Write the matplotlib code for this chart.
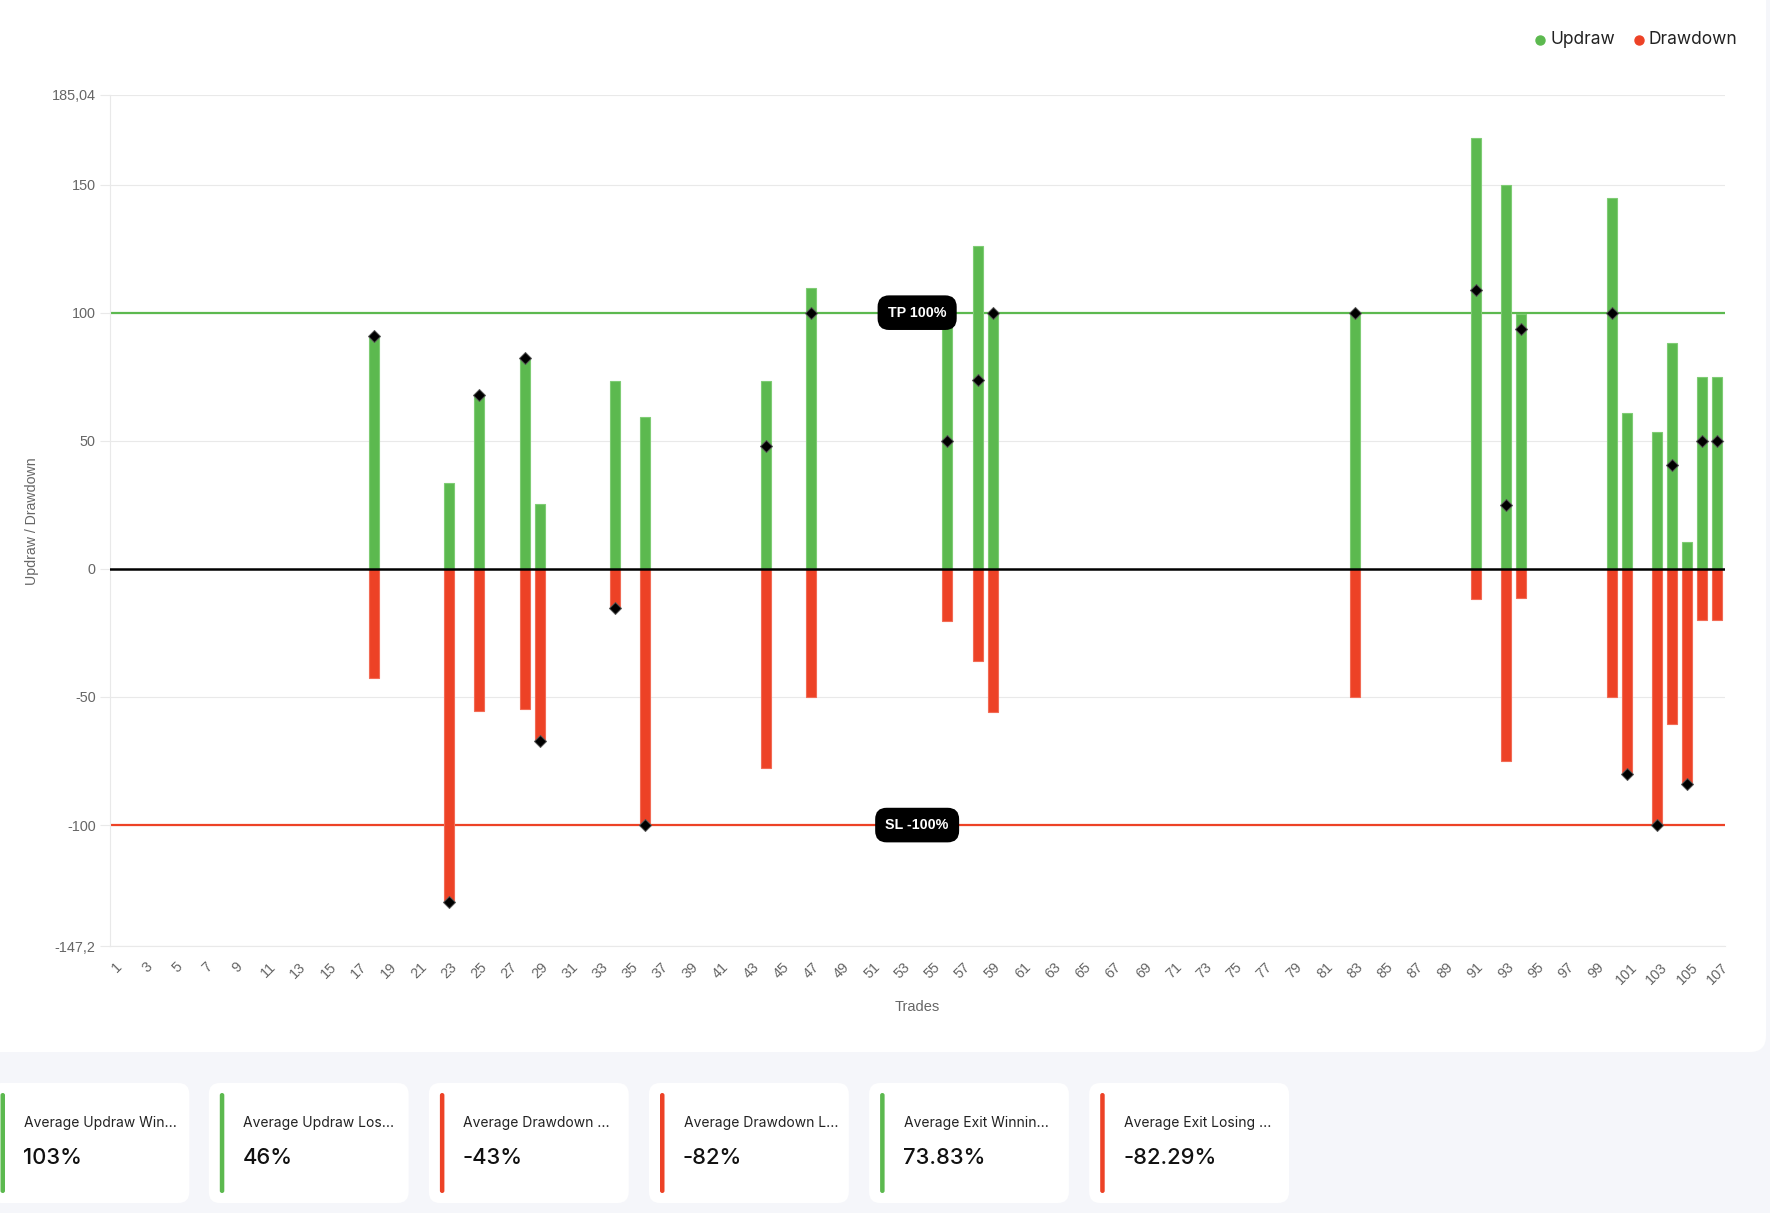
import matplotlib
matplotlib.use("Agg")
import matplotlib.pyplot as plt
from matplotlib.patches import FancyBboxPatch
from matplotlib.lines import Line2D

# trades that have values (all others are empty)
n_trades = 107
trade_ids = [18, 23, 25, 28, 29, 34, 36, 44, 47, 56, 58, 59, 83,
             91, 93, 94, 100, 101, 103, 104, 105, 106, 107]
updraw = [91, 33.4, 67.8, 82.5, 25.2, 73.5, 59.3, 73.5, 109.7, 100, 126, 100, 100,
          168, 150, 99.6, 144.7, 60.8, 53.3, 88, 10.5, 74.7, 74.7]
drawdown = [-42.7, -130, -55.3, -54.7, -67.1, -15.3, -100.3, -77.7, -50, -20.2, -35.8, -55.7, -50,
            -11.7, -75, -11.3, -50, -80.1, -100, -60.7, -84.1, -19.9, -19.9]
exit_pct = [91, -130, 67.8, 82.5, -67.1, -15.3, -100, 48.1, 100, 50, 73.8, 100, 100,
            108.7, 25, 93.5, 100, -80.1, -100, 40.6, -84.1, 50, 50]

y_ticks = [-147.2, -100, -50, 0, 50, 100, 150, 185.04]
y_tick_labels = ["-147,2", "-100", "-50", "0", "50", "100", "150", "185,04"]
x_ticks = list(range(1, n_trades + 1, 2))

tp_level = 100
sl_level = -100

card_titles = ["Average Updraw Win...", "Average Updraw Los...", "Average Drawdown ...",
               "Average Drawdown L...", "Average Exit Winnin...", "Average Exit Losing ..."]
card_values = ["103%", "46%", "-43%", "-82%", "73.83%", "-82.29%"]
card_kinds = ["up", "up", "down", "down", "up", "down"]

GREEN = "#5cb94f"
GREEN_EDGE = "#7fcc74"
RED = "#ed4226"
RED_EDGE = "#f26b55"
GREY_TXT = "#666666"
GRID = "#e9e9e9"

W, H = 1770, 1213
fig = plt.figure(figsize=(W / 100, H / 100), dpi=100)
fig.patch.set_facecolor("#f5f6fa")


def fx(px):
    return px / W


def fy(py):
    return 1 - py / H


def inch_box(x0, y0, x1, y1, r, color, z=0):
    # box in pixel coords (top-left origin), drawn in inch space so corners stay round
    p = FancyBboxPatch((x0 / 100, (H - y1) / 100), (x1 - x0) / 100, (y1 - y0) / 100,
                       boxstyle=f"round,pad=0,rounding_size={r / 100}",
                       transform=fig.dpi_scale_trans, facecolor=color,
                       edgecolor="none", zorder=z)
    fig.add_artist(p)


# white chart panel
inch_box(-30, -30, 1766, 1052, 16, "white")

ax = fig.add_axes([fx(109.5), fy(946), fx(1724.8) - fx(109.5), fy(94.8) - fy(946)])
ax.set_facecolor("none")

ax.bar(trade_ids, updraw, width=0.66, color=GREEN, edgecolor=GREEN_EDGE, linewidth=0.8, zorder=3)
ax.bar(trade_ids, drawdown, width=0.66, color=RED, edgecolor=RED_EDGE, linewidth=0.8, zorder=3)
ax.plot(trade_ids, exit_pct, linestyle="none", marker="D", markersize=6.5,
        markerfacecolor="black", markeredgecolor="#555555", markeredgewidth=0.7, zorder=6)

ax.axhline(0, color="black", lw=1.8, zorder=4)
ax.axhline(tp_level, color=GREEN, lw=1.6, zorder=2)
ax.axhline(sl_level, color=RED, lw=1.6, zorder=2)

mid = (0.5 + n_trades + 0.5) / 2
for lvl, txt in [(tp_level, "TP 100%"), (sl_level, "SL -100%")]:
    ax.text(mid, lvl, txt, ha="center", va="center", color="white", fontsize=10.3,
            fontweight="bold", family="Liberation Sans", zorder=7,
            bbox=dict(boxstyle="round,pad=0.72,rounding_size=0.8", fc="black", ec="none"))

ax.set_xlim(0.5, n_trades + 0.5)
ax.set_ylim(-147.2, 185.04)
ax.set_yticks(y_ticks)
ax.set_yticklabels(y_tick_labels)
ax.set_xticks(x_ticks)
ax.set_xticklabels([str(t) for t in x_ticks], rotation=45, ha="center", va="top")
ax.grid(axis="y", color=GRID, lw=0.8, zorder=0)
ax.tick_params(axis="y", length=7, color=GRID, width=0.8, pad=3, labelsize=10.4, labelcolor=GREY_TXT)
ax.tick_params(axis="x", length=0, pad=10, labelsize=10.4, labelcolor=GREY_TXT)
for lab in ax.get_xticklabels() + ax.get_yticklabels():
    lab.set_family("Liberation Sans")
for s in ["top", "right"]:
    ax.spines[s].set_visible(False)
ax.spines["left"].set_color(GRID)
ax.spines["bottom"].set_color(GRID)
ax.spines["left"].set_linewidth(0.8)
ax.spines["bottom"].set_linewidth(0.8)

fig.text(fx(31.6), fy(521), "Updraw / Drawdown", rotation=90, ha="center", va="center",
         fontsize=10.2, color=GREY_TXT, family="Liberation Sans")
fig.text(fx(917), fy(1007), "Trades", ha="center", va="center",
         fontsize=10.5, color=GREY_TXT, family="Liberation Sans")

# legend
for cx, col, lab in [(1540, GREEN, "Updraw"), (1639, RED, "Drawdown")]:
    fig.add_artist(Line2D([fx(cx)], [fy(40)], marker="o", markersize=6.5, color=col,
                          linestyle="none", transform=fig.transFigure))
    fig.text(fx(cx + 10), fy(40), lab, ha="left", va="center", fontsize=12.5,
             color="#222222", family="Inter")

# stat cards
card_w = 199.8
for i, (title, val, kind) in enumerate(zip(card_titles, card_values, card_kinds)):
    left = -10.5 if i == 0 else 208.8 + (i - 1) * 220.1
    inch_box(left, 1083, left + card_w, 1203, 11, "white", z=1)
    inch_box(left + 11, 1093, left + 15.5, 1193, 2.2, GREEN if kind == "up" else RED, z=2)
    fig.text(fx(left + 34.5), fy(1123), title, ha="left", va="center", fontsize=10,
             color="#222222", family="Inter")
    fig.text(fx(left + 34), fy(1158), val, ha="left", va="center", fontsize=15.8,
             color="#111111", family="Inter", fontweight="medium")

fig.savefig("out.png", dpi=100, facecolor=fig.get_facecolor())
